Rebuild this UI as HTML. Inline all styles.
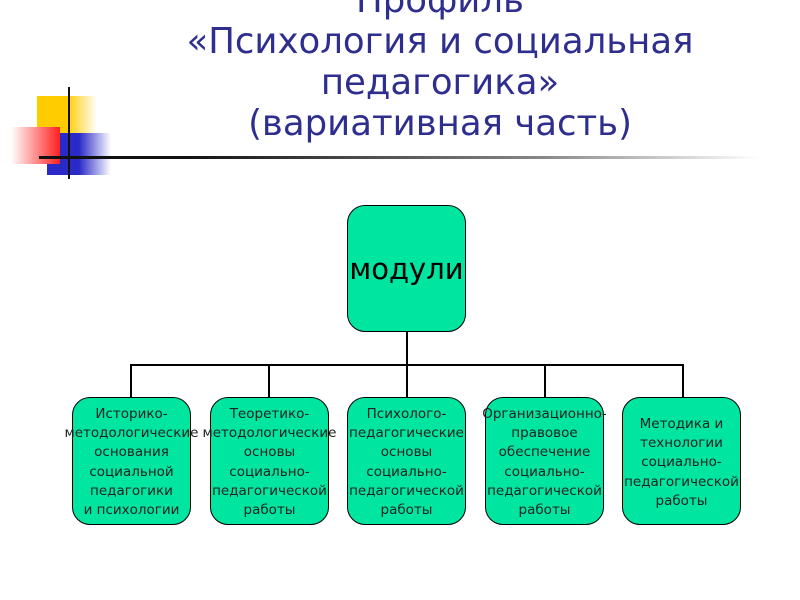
<!DOCTYPE html>
<html><head><meta charset="utf-8"><style>
body{margin:0;width:800px;height:600px;background:#fff;position:relative;overflow:hidden;font-family:"DejaVu Sans",sans-serif}
.t{position:absolute;left:40px;width:800px;text-align:center;color:#2e2e8e;font-size:35.5px;line-height:41px;top:-20px}
.b{position:absolute;background:#00e6a0;border:1.5px solid #000;border-radius:18px;box-sizing:border-box;display:flex;align-items:center;justify-content:center;text-align:center}
.s{width:119px;height:128px;top:397px;font-size:13.5px;line-height:19.2px;color:#222;white-space:nowrap;align-items:flex-start;padding-top:7px}
.l{position:absolute;background:#000}
</style></head><body>
<div style="position:absolute;left:37px;top:96px;width:60px;height:38px;background:linear-gradient(90deg,#ffcc00 50%,#fff)"></div>
<div style="position:absolute;left:47px;top:133px;width:64px;height:42px;background:linear-gradient(90deg,#2a2ac8 50%,#fff)"></div>
<div style="position:absolute;left:11px;top:127px;width:49px;height:37px;background:linear-gradient(90deg,#fff,#ff2020)"></div>
<div style="position:absolute;left:68px;top:87px;width:2px;height:92px;background:#111"></div>
<div style="position:absolute;left:39px;top:156px;width:720px;height:3px;background:linear-gradient(90deg,#111 20%,#888 70%,#fff)"></div>
<div class="t">Профиль<br>«Психология и социальная<br>педагогика»<br>(вариативная часть)</div>
<div class="b" style="left:347px;top:205px;width:119px;height:127px;font-size:29px;color:#000">модули</div>
<div class="l" style="left:406px;top:331px;width:2px;height:35px"></div>
<div class="l" style="left:131px;top:364px;width:553px;height:2px"></div>
<div class="l" style="left:130px;top:364px;width:2px;height:34px"></div>
<div class="l" style="left:268px;top:364px;width:2px;height:34px"></div>
<div class="l" style="left:406px;top:364px;width:2px;height:34px"></div>
<div class="l" style="left:544px;top:364px;width:2px;height:34px"></div>
<div class="l" style="left:682px;top:364px;width:2px;height:34px"></div>
<div class="b s" style="left:72px">Историко-<br>методологические<br>основания<br>социальной<br>педагогики<br>и психологии</div>
<div class="b s" style="left:210px">Теоретико-<br>методологические<br>основы<br>социально-<br>педагогической<br>работы</div>
<div class="b s" style="left:347px">Психолого-<br>педагогические<br>основы<br>социально-<br>педагогической<br>работы</div>
<div class="b s" style="left:485px">Организационно-<br>правовое<br>обеспечение<br>социально-<br>педагогической<br>работы</div>
<div class="b s" style="left:622px;padding-top:17px">Методика и<br>технологии<br>социально-<br>педагогической<br>работы</div>
</body></html>
